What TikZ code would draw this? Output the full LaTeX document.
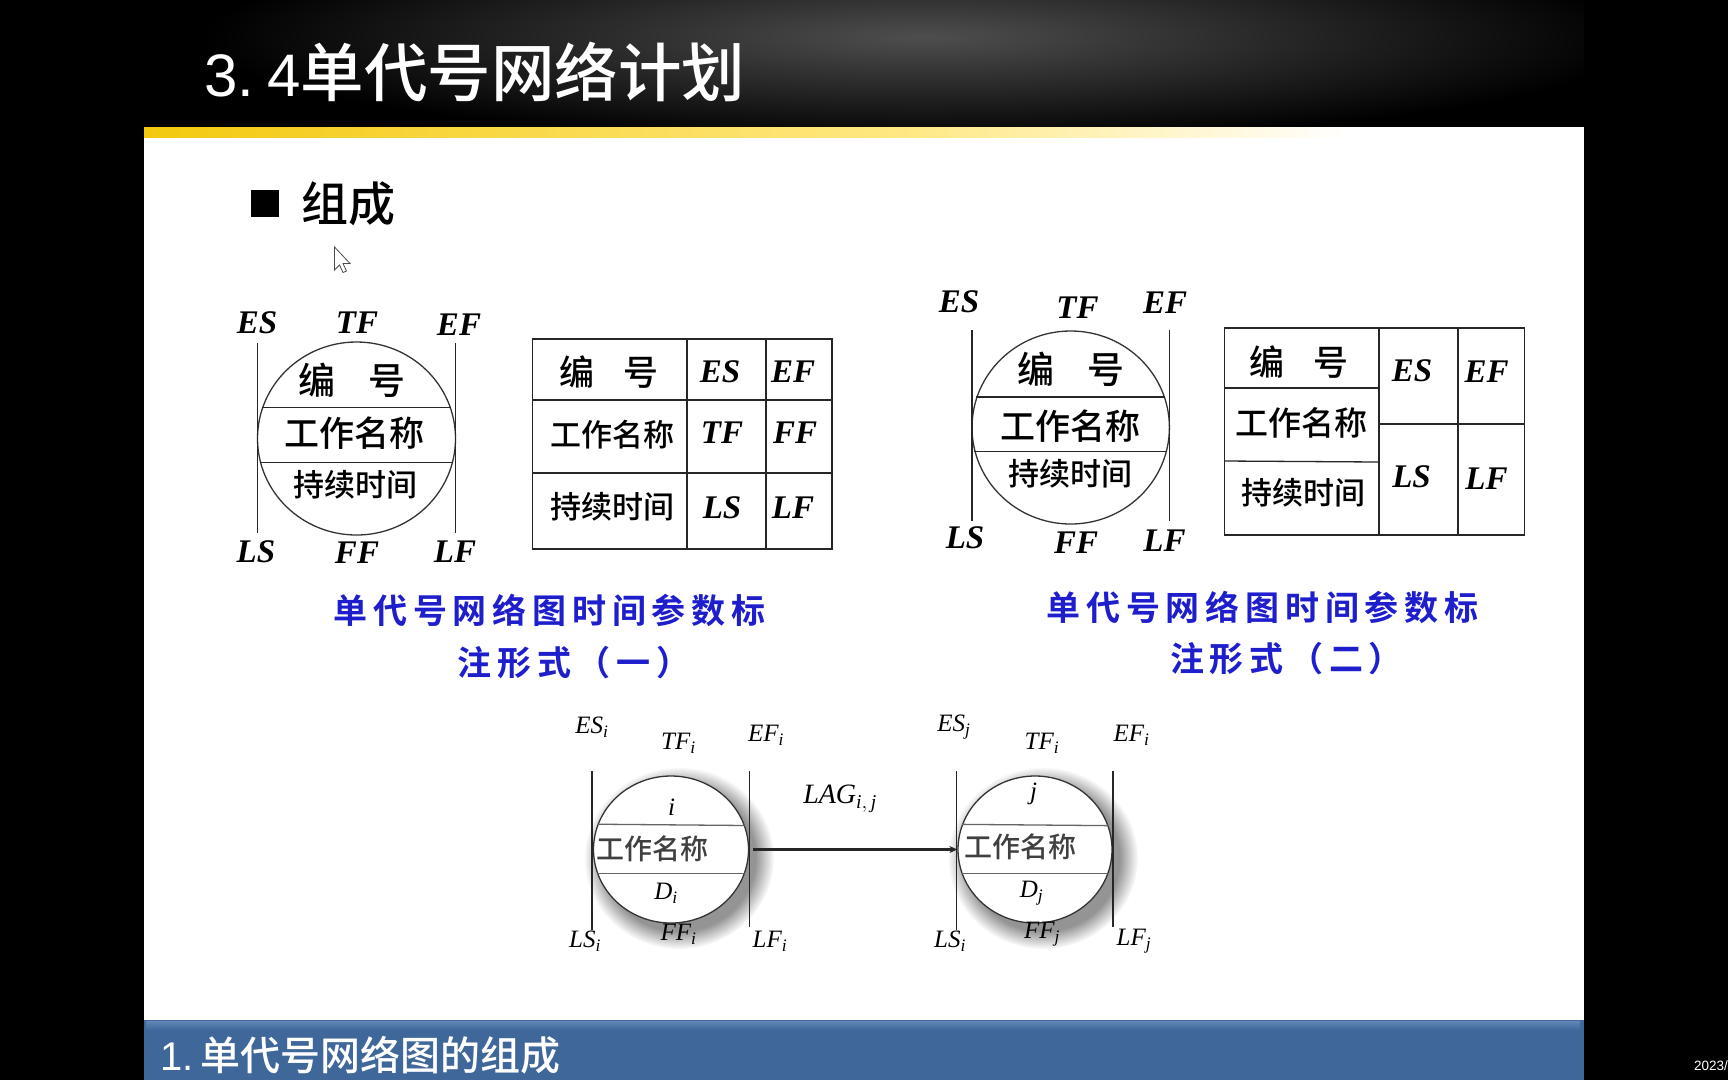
\documentclass[tikz,border=0pt]{standalone}
\usepackage{fontspec}
\usepackage{amsmath}
\usetikzlibrary{shapes.geometric,arrows.meta,fadings}
\setmainfont{Liberation Serif}
\setsansfont{Liberation Sans}
\newfontfamily\cjk{Noto Sans CJK SC Medium}
\newfontfamily\cjkcap[LetterSpace=17]{Noto Sans CJK SC Bold}
\definecolor{capblue}{RGB}{30,30,205}
\definecolor{barblue}{RGB}{64,103,153}
\definecolor{barlight}{RGB}{98,135,182}
\definecolor{bandgold}{RGB}{243,201,15}
\definecolor{bandpale}{RGB}{255,232,130}
\definecolor{glowgrey}{RGB}{78,78,78}
\newcommand{\parlabel}[1]{\textbf{\textit{#1}}}
\begin{document}
\begin{tikzpicture}[x=1pt,y=-1pt]
	\tikzstyle{thinline}=[draw=black!85,line width=1.3pt]
	\tikzstyle{bigcircle}=[ellipse,draw=black!80,line width=1.3pt,fill=white,inner sep=0pt]
	\tikzstyle{smallcircle}=[bigcircle,minimum width=155pt,minimum height=147pt]
	\tikzstyle{softshadow}=[black,opacity=.42,path fading=circle with fuzzy edge 20 percent]
	\tikzstyle{par}=[inner sep=0pt,font=\fontsize{33}{33}\selectfont]
	\tikzstyle{subpar}=[inner sep=0pt,font=\fontsize{25}{25}\selectfont]
	\tikzstyle{han}=[inner sep=0pt,font=\fontsize{33}{33}\selectfont\cjk]
	\tikzstyle{smallhan}=[inner sep=0pt,text=black!75,font=\fontsize{28}{28}\selectfont\cjk]
	\tikzstyle{caption}=[inner sep=0pt,text=capblue,font=\fontsize{34}{34}\selectfont\cjkcap]

	% slide
	\fill[black] (0,0) rectangle (1728,1080);
	\fill[white] (144,127) rectangle (1584,1020);
	\begin{scope}
		\clip (144,0) rectangle (1584,127);
		\shade[inner color=glowgrey,outer color=black] (923,37) ellipse (720 and 105);
	\end{scope}
	\shade[left color=bandgold,right color=bandpale] (144,127) rectangle (900,137);
	\shade[left color=bandpale,right color=white] (900,127) rectangle (1350,137);
	\fill[barblue] (144,1020) rectangle (1584,1080);
	\shade[top color=barlight,bottom color=barblue] (146,1021) rectangle (1580,1030);
	\node[anchor=west,inner sep=0pt,text=white] (title) at (204,72) {\fontsize{60}{60}\selectfont\sffamily 3.\hspace{13pt}4\fontsize{63.5}{63.5}\selectfont\cjk 单代号网络计划};
	\node[anchor=west,inner sep=0pt,text=white] (footer) at (160,1055) {\fontsize{40}{40}\selectfont\sffamily 1.\hspace{7pt}\cjk 单代号网络图的组成};
	\node[anchor=west,inner sep=0pt,text=white] (date) at (1694,1066) {\fontsize{13.5}{13.5}\selectfont\sffamily 2023/};
	\fill[black] (251,190) rectangle (279,217);
	\node[anchor=west,inner sep=0pt] (head) at (301,204) {\fontsize{47}{47}\selectfont\cjk 组成};
	\draw[black!70,fill=white,line width=.8pt] (334.5,247) -- (334.5,270) -- (339.5,265) -- (343,272.5) -- (346.5,271) -- (343,263.5) -- (350,263.5) -- cycle;

	% form one
	\node[bigcircle,minimum width=198pt,minimum height=193pt] (oneC) at (356.5,438.5) {};
	\draw[thinline] (oneC.162) -- (oneC.18);
	\draw[thinline] (oneC.194) -- (oneC.-14);
	\coordinate (oneA) at (257.5,343);
	\coordinate (oneB) at (257.5,533);
	\coordinate (oneD) at (455.5,343);
	\coordinate (oneE) at (455.5,533);
	\draw[thinline] (oneA) -- (oneB);
	\draw[thinline] (oneD) -- (oneE);
	\node[par] (oneES) at (257,323) {\parlabel{ES}};
	\node[par] (oneTF) at (357,323) {\parlabel{TF}};
	\node[par] (oneEF) at (459,325) {\parlabel{EF}};
	\node[par] (oneLS) at (256,552) {\parlabel{LS}};
	\node[par] (oneFF) at (357,553) {\parlabel{FF}};
	\node[par] (oneLF) at (455,552) {\parlabel{LF}};
	\node[han,font=\fontsize{37}{37}\selectfont\cjk] (oneNo) at (352,380) {编\hspace{.9em}号};
	\node[han,font=\fontsize{35}{35}\selectfont\cjk] (oneName) at (354,433) {工作名称};
	\node[han,font=\fontsize{31}{31}\selectfont\cjk] (oneTime) at (355,485) {持续时间};

	\draw[thinline] (532.6,339) rectangle (832,549);
	\draw[thinline] (687,339) -- (687,549);
	\draw[thinline] (766,339) -- (766,549);
	\draw[thinline] (532.6,400) -- (832,400);
	\draw[thinline] (532.6,473) -- (832,473);
	\node[han,font=\fontsize{35}{35}\selectfont\cjk] (oneTNo) at (609,372) {编\hspace{.85em}号};
	\node[han,font=\fontsize{31}{31}\selectfont\cjk] (oneTName) at (612,435) {工作名称};
	\node[han,font=\fontsize{31}{31}\selectfont\cjk] (oneTTime) at (612,507) {持续时间};
	\node[par] (oneTES) at (720,372) {\parlabel{ES}};
	\node[par] (oneTEF) at (793,372) {\parlabel{EF}};
	\node[par] (oneTTF) at (722,433) {\parlabel{TF}};
	\node[par] (oneTFF) at (795,433) {\parlabel{FF}};
	\node[par] (oneTLS) at (722,508) {\parlabel{LS}};
	\node[par] (oneTLF) at (793,508) {\parlabel{LF}};
	\node[caption] (oneCapA) at (549.5,610) {单代号网络图时间参数标};
	\node[caption] (oneCapB) at (574,663) {注形式（一）};

	% form two
	\node[bigcircle,minimum width=197.4pt,minimum height=193pt] (twoC) at (1070.7,427.5) {};
	\draw[thinline] (twoC.162) -- (twoC.18);
	\draw[thinline] (twoC.194.4) -- (twoC.-14.4);
	\coordinate (twoA) at (972,330);
	\coordinate (twoB) at (972,521);
	\coordinate (twoD) at (1169.4,330);
	\coordinate (twoE) at (1169.4,521);
	\draw[thinline] (twoA) -- (twoB);
	\draw[thinline] (twoD) -- (twoE);
	\node[par] (twoES) at (959,302) {\parlabel{ES}};
	\node[par] (twoTF) at (1077.5,308) {\parlabel{TF}};
	\node[par] (twoEF) at (1165,303) {\parlabel{EF}};
	\node[par] (twoLS) at (965,538) {\parlabel{LS}};
	\node[par] (twoFF) at (1076,543) {\parlabel{FF}};
	\node[par] (twoLF) at (1164.5,541) {\parlabel{LF}};
	\node[han,font=\fontsize{37}{37}\selectfont\cjk] (twoNo) at (1071,369) {编\hspace{.9em}号};
	\node[han,font=\fontsize{35}{35}\selectfont\cjk] (twoName) at (1070.5,426) {工作名称};
	\node[han,font=\fontsize{31}{31}\selectfont\cjk] (twoTime) at (1070,474) {持续时间};

	\draw[thinline] (1224.5,328) rectangle (1524.5,535);
	\draw[thinline] (1379,328) -- (1379,535);
	\draw[thinline] (1458,328) -- (1458,535);
	\draw[thinline] (1224.5,388) -- (1379,388);
	\draw[thinline] (1224.5,461) -- (1379,462);
	\draw[thinline] (1379,424) -- (1524.5,424);
	\node[han,font=\fontsize{35}{35}\selectfont\cjk] (twoTNo) at (1299,362) {编\hspace{.85em}号};
	\node[han,font=\fontsize{33}{33}\selectfont\cjk] (twoTName) at (1301,423) {工作名称};
	\node[han,font=\fontsize{31}{31}\selectfont\cjk] (twoTTime) at (1303,493) {持续时间};
	\node[par] (twoTES) at (1412,371) {\parlabel{ES}};
	\node[par] (twoTEF) at (1486.5,372) {\parlabel{EF}};
	\node[par] (twoTLS) at (1411.5,477) {\parlabel{LS}};
	\node[par] (twoTLF) at (1486.5,479) {\parlabel{LF}};
	\node[caption] (twoCapA) at (1262.5,607) {单代号网络图时间参数标};
	\node[caption] (twoCapB) at (1286.5,659) {注形式（二）};

	% link of two works
	\fill[softshadow] (679,858) ellipse (95 and 91);
	\fill[softshadow] (1043,858) ellipse (95 and 91);
	\node[smallcircle] (workI) at (671,849.5) {};
	\node[smallcircle,minimum width=154pt] (workJ) at (1035,849.5) {};
	\draw[thinline,black!60] (workI.161.6) -- (workI.18.4);
	\draw[thinline,black!60] (workI.198.4) -- (workI.-18.4);
	\draw[thinline,black!60] (workJ.161.6) -- (workJ.18.4);
	\draw[thinline,black!60] (workJ.198.4) -- (workJ.-18.4);
	\coordinate (workIA) at (592,771);
	\coordinate (workIB) at (592,930);
	\coordinate (workID) at (749.6,771);
	\coordinate (workIE) at (749.6,927);
	\coordinate (workJA) at (956.5,771);
	\coordinate (workJB) at (956.5,930);
	\coordinate (workJD) at (1113,771);
	\coordinate (workJE) at (1113,927);
	\draw[thinline,line width=1.8pt] (workIA) -- (workIB);
	\draw[thinline] (workID) -- (workIE);
	\draw[thinline] (workJA) -- (workJB);
	\draw[thinline,line width=1.8pt] (workJD) -- (workJE);
	\draw[thinline,-{Stealth[length=8pt,width=7pt]},line width=2.2pt,shorten <=4pt] (workI) -- (workJ);
	\node[subpar] (iES) at (592,727) {$\mathit{ES}_{\mathit{i}}$};
	\node[subpar] (iTF) at (678.5,743) {$\mathit{TF}_{\mathit{i}}$};
	\node[subpar] (iEF) at (766,735) {$\mathit{EF}_{\mathit{i}}$};
	\node[subpar] (iLS) at (585,941) {$\mathit{LS}_{\mathit{i}}$};
	\node[subpar] (iFF) at (678.5,934) {$\mathit{FF}_{\mathit{i}}$};
	\node[subpar] (iLF) at (770,941) {$\mathit{LF}_{\mathit{i}}$};
	\node[subpar] (iNo) at (671.6,807) {$\mathit{i}$};
	\node[smallhan] (iName) at (652,849) {工作名称};
	\node[subpar] (iD) at (666,893) {$\mathit{D}_{\mathit{i}}$};
	\node[subpar,font=\fontsize{28}{28}\selectfont] (lag) at (840,799) {$\mathit{LAG}_{\mathit{i},\,\mathit{j}}$};
	\node[subpar] (jES) at (954,727) {$\mathit{ES}_{\mathit{j}}$};
	\node[subpar] (jTF) at (1042,743) {$\mathit{TF}_{\mathit{i}}$};
	\node[subpar] (jEF) at (1131.6,735) {$\mathit{EF}_{\mathit{i}}$};
	\node[subpar] (jLS) at (950,941) {$\mathit{LS}_{\mathit{i}}$};
	\node[subpar] (jFF) at (1042,934) {$\mathit{FF}_{\mathit{j}}$};
	\node[subpar] (jLF) at (1134,941) {$\mathit{LF}_{\mathit{j}}$};
	\node[subpar] (jNo) at (1033.7,794) {$\mathit{j}$};
	\node[smallhan] (jName) at (1020,847) {工作名称};
	\node[subpar] (jD) at (1031.6,893) {$\mathit{D}_{\mathit{j}}$};
	\useasboundingbox (0,0) rectangle (1728,1080);
\end{tikzpicture}
\end{document}
